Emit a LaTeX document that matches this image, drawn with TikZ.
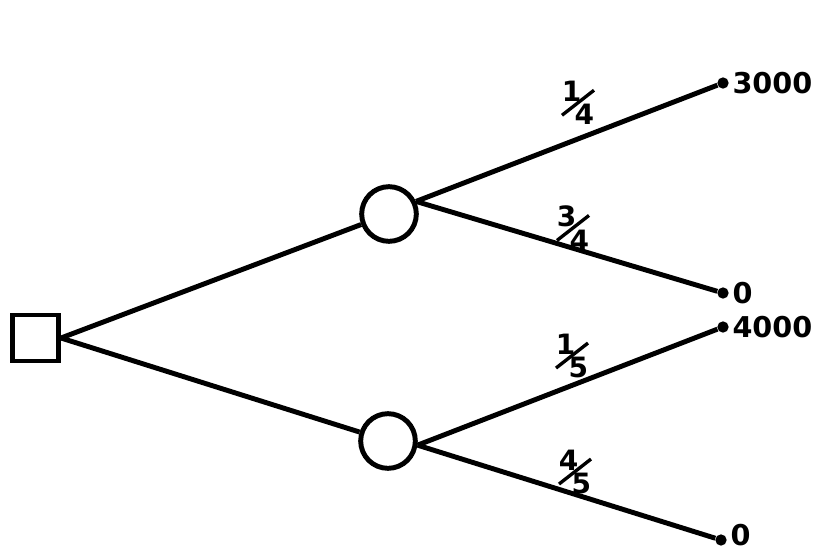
\documentclass[tikz,border=0pt]{standalone}
\usepackage{fontspec}
\setmainfont{DejaVu Sans}
\usepackage{graphicx}
\usetikzlibrary{positioning}

% slanted fraction as printed in the tree
\newcommand\slfrac[2]{%
  \raisebox{0.42em}{#1}%
  \kern-0.12em\makebox[0pt]{\raisebox{-0.12em}{\rotatebox{38}{\rule{1.45em}{0.12em}}}}\kern-0.12em
  \raisebox{-0.42em}{#2}}

\begin{document}
\begin{tikzpicture}[x=0.75pt,y=-0.75pt,
  branch/.style={line width=3.7pt},
  decision/.style={draw,rectangle,line width=3.7pt,minimum size=34.5pt,inner sep=0pt},
  chance/.style={draw,circle,line width=3.7pt,minimum size=41pt,inner sep=0pt},
  leaf/.style={circle,fill,minimum size=8.5pt,inner sep=0pt},
  payoff/.style={font=\fontsize{21.5pt}{25pt}\bfseries,inner sep=0pt},
  prob/.style={font=\fontsize{21pt}{25pt}\bfseries,inner sep=0pt}]
  \useasboundingbox (0,0) rectangle (839,550);

  \node[decision] (dec) at (35.5,338) {};
  \node[chance] (up) at (389,214) {};
  \node[chance] (down) at (388,441) {};

  \node[leaf] (e1) at (723,83) {};
  \node[leaf] (e2) at (723,293) {};
  \node[leaf] (e3) at (723,327) {};
  \node[leaf] (e4) at (721,540) {};

  \draw[branch] (dec.east) -- (up);
  \draw[branch] (dec.east) -- (down);
  \draw[branch] (up.25) -- (e1);
  \draw[branch] (up.25) -- (e2);
  \draw[branch] (down.-8) -- (e3);
  \draw[branch] (down.-8) -- (e4);

  \node[payoff,right=2.5pt of e1] {3000};
  \node[payoff,right=2.5pt of e2] {0};
  \node[payoff,right=2.5pt of e3] {4000};
  \node[payoff,right=2.5pt of e4,yshift=4pt] {0};

  \node[prob] (p1) at (578,103) {\slfrac{1}{4}};
  \node[prob] (p2) at (573,228) {\slfrac{3}{4}};
  \node[prob] (p3) at (572,356) {\slfrac{1}{5}};
  \node[prob] (p4) at (575,472) {\slfrac{4}{5}};
\end{tikzpicture}
\end{document}
